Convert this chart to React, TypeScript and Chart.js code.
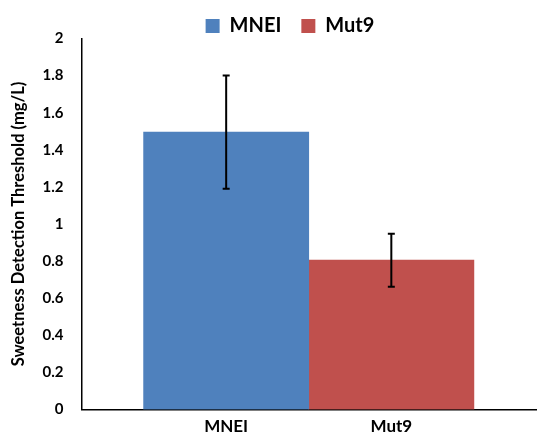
import React, { useEffect, useRef } from "react";
import { Chart, registerables } from "chart.js";

Chart.register(...registerables);

const categories = ["MNEI", "Mut9"];
const values = [1.495, 0.805];
const errors = [0.305, 0.143];
const colors = ["#4F81BD", "#C0504D"];
const yTicks = [0, 0.2, 0.4, 0.6, 0.8, 1, 1.2, 1.4, 1.6, 1.8, 2];

const FONT = "Lato, 'Open Sans', sans-serif";

const errorBarPlugin = {
  id: "errorBars",
  afterLayout(chart: any) {
    if (chart.legend) {
      chart.legend.left += 22;
      chart.legend.right += 22;
    }
  },
  afterDatasetsDraw(chart: any) {
    const { ctx, scales } = chart;
    const xs = scales.x;
    const ys = scales.y;
    ctx.save();
    ctx.strokeStyle = "#000";
    ctx.lineWidth = 2;
    categories.forEach((_, i) => {
      const x = xs.getPixelForValue(i);
      const yTop = ys.getPixelForValue(values[i] + errors[i]);
      const yBot = ys.getPixelForValue(values[i] - errors[i]);
      ctx.beginPath();
      ctx.moveTo(x, yTop);
      ctx.lineTo(x, yBot);
      ctx.moveTo(x - 3.5, yTop);
      ctx.lineTo(x + 3.5, yTop);
      ctx.moveTo(x - 3.5, yBot);
      ctx.lineTo(x + 3.5, yBot);
      ctx.stroke();
    });
    ctx.restore();
  },
};

export default function App() {
  const ref = useRef<HTMLCanvasElement | null>(null);
  useEffect(() => {
    if (!ref.current) return;
    const chart = new Chart(ref.current, {
      type: "bar",
      data: {
        datasets: categories.map((c, i) => ({
          label: c,
          data: [{ x: i, y: values[i] }],
          backgroundColor: colors[i],
          borderWidth: 0,
          grouped: false,
          barPercentage: 1,
          categoryPercentage: 1,
        })),
      },
      options: {
        animation: false,
        responsive: false,
        devicePixelRatio: 1,
        layout: { padding: { left: 0, right: 14, top: -4, bottom: 0 } },
        plugins: {
          tooltip: { enabled: false },
          legend: {
            display: true,
            position: "top",
            align: "center",
            maxHeight: 42.5,
            labels: {
              boxWidth: 14,
              boxHeight: 14,
              padding: 20,
              color: "#000",
              font: { family: FONT, size: 20, weight: "bold" },
            },
          },
        },
        scales: {
          x: {
            type: "linear",
            offset: false,
            min: -0.876,
            max: 1.876,
            grid: { display: false, drawTicks: false, offset: false },
            border: { display: true, color: "#000", width: 1.5 },
            afterBuildTicks: (scale: any) => {
              scale.ticks = categories.map((_, i) => ({ value: i }));
            },
            afterFit: (scale: any) => {
              scale.height = 35.5;
            },
            ticks: {
              autoSkip: false,
              maxRotation: 0,
              padding: 7,
              color: "#000",
              font: { family: FONT, size: 17, weight: "bold" },
              callback: (v: any) => categories[v] ?? "",
            },
          },
          y: {
            min: 0,
            max: 2,
            grid: { display: false, drawTicks: false },
            border: { display: true, color: "#000", width: 1.5 },
            afterBuildTicks: (scale: any) => {
              scale.ticks = yTicks.map((v) => ({ value: v }));
            },
            afterFit: (scale: any) => {
              scale.width = 81.5;
            },
            ticks: {
              padding: 18,
              color: "#000",
              font: { family: FONT, size: 15, weight: "bold" },
              callback: (v: any) => String(v),
            },
            title: {
              display: true,
              text: "Sweetness Detection Threshold (mg/L)",
              color: "#000",
              padding: { top: 9, bottom: 0 },
              font: { family: FONT, size: 16.5, weight: "bold" },
            },
          },
        },
      },
      plugins: [errorBarPlugin],
    });
    return () => chart.destroy();
  }, []);
  return (
    <div style={{ position: "absolute", left: 0, top: 0, width: 550, height: 445, background: "#fff" }}>
      <canvas ref={ref} width={550} height={445} style={{ width: 550, height: 445 }} />
    </div>
  );
}
